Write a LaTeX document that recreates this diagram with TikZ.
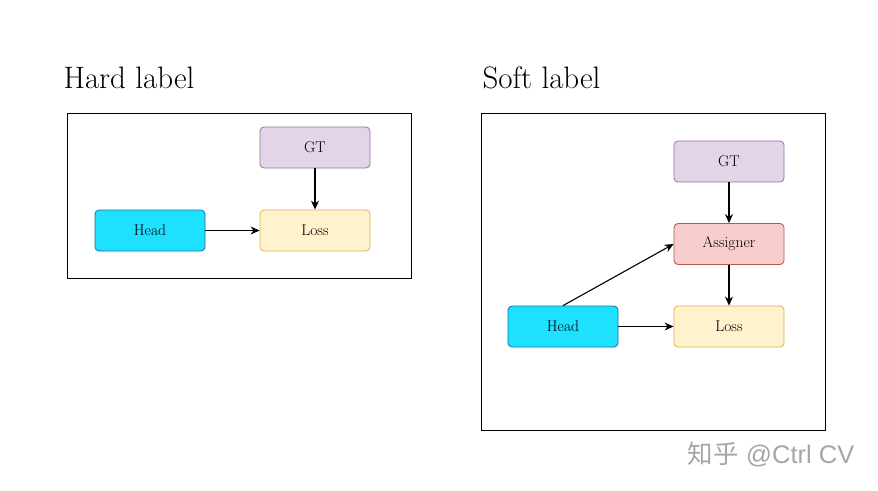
\documentclass[tikz,border=0pt]{standalone}
\usepackage{fontspec}
\newfontfamily\cjk{Noto Sans CJK SC}
\usetikzlibrary{arrows.meta}
\definecolor{gtf}{HTML}{E1D5E7}\definecolor{gtd}{HTML}{9673A6}
\definecolor{lof}{HTML}{FFF2CC}\definecolor{lod}{HTML}{D6B656}
\definecolor{hef}{HTML}{1EE0FF}\definecolor{hed}{HTML}{10739E}
\definecolor{asf}{HTML}{F8CECC}\definecolor{asd}{HTML}{B85450}
\begin{document}
\begin{tikzpicture}[x=1pt,y=-1pt,
 box/.style={draw,rounded corners=4pt,minimum width=110pt,minimum height=41pt,font=\fontsize{15.5}{18}\selectfont,line width=0.8pt},
 arr/.style={-{Stealth[length=9pt,width=8pt]},line width=1.1pt},
 ttl/.style={anchor=base west,font=\fontsize{31}{36}\selectfont}]
\useasboundingbox[fill=white] (0,0) rectangle (878,490);
\node[ttl] (t1) at (60,88) {Hard label};
\node[ttl] (t2) at (479,88) {Soft label};
\draw[line width=1pt] (67,113) rectangle (411,278);
\draw[line width=1pt] (481,113) rectangle (825,430);
\node[box,fill=gtf,draw=gtd] (gt1) at (315,147.5) {GT};
\node[box,fill=lof,draw=lod] (lo1) at (315,230.5) {Loss};
\node[box,fill=hef,draw=hed] (he1) at (150,230.5) {Head};
\draw[arr] (gt1) -- (lo1);
\draw[arr] (he1) -- (lo1);
\node[box,fill=gtf,draw=gtd] (gt2) at (729,161.5) {GT};
\node[box,fill=asf,draw=asd] (as2) at (729,244) {Assigner};
\node[box,fill=lof,draw=lod] (lo2) at (729,326.5) {Loss};
\node[box,fill=hef,draw=hed] (he2) at (563,326.5) {Head};
\draw[arr] (gt2) -- (as2);
\draw[arr] (as2) -- (lo2);
\draw[arr] (he2) -- (lo2);
\draw[arr] (he2.north) -- (as2.west);
\node[anchor=west,text=gray!70,font=\fontsize{25.5}{30}\selectfont] (wm) at (684,455) {{\cjk 知乎} \fontspec{Liberation Sans}@Ctrl CV};
\end{tikzpicture}
\end{document}
